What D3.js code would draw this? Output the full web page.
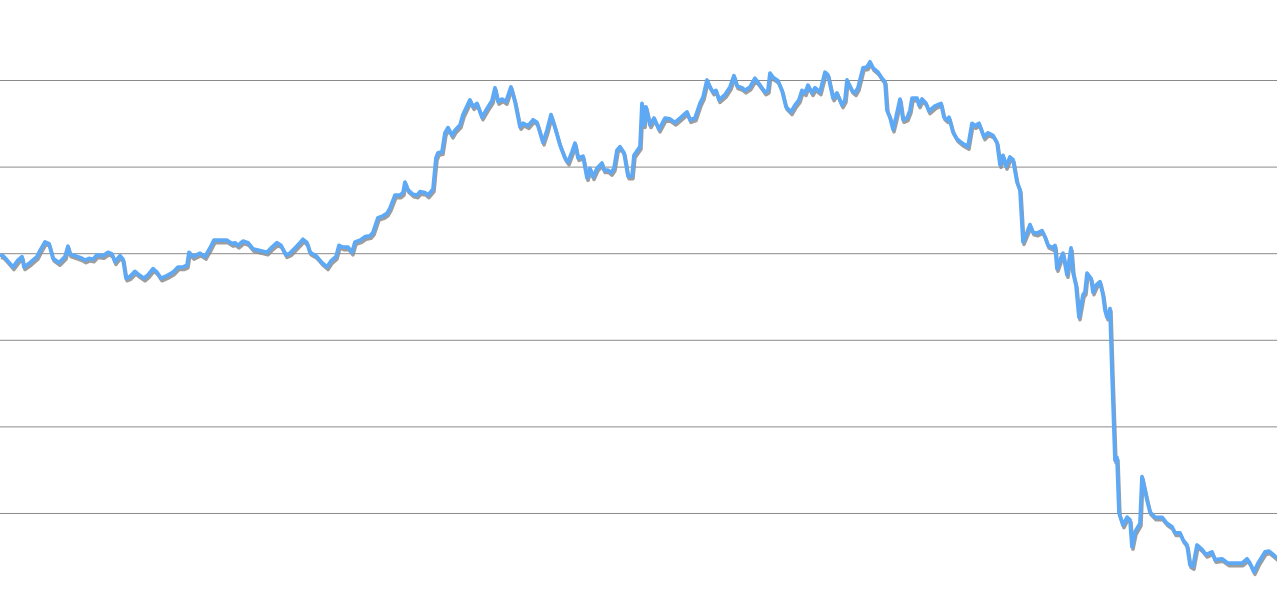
<!DOCTYPE html>
<html>
<head>
<meta charset="utf-8">
<title>line</title>
<script src="https://cdn.jsdelivr.net/npm/d3@7"></script>
<style>
  html, body { margin: 0; padding: 0; background: #fff; overflow: hidden; }
  .grid line { stroke: #8a8a8a; stroke-width: 1; }
  .grid .domain { display: none; }
  .grid text { display: none; }
</style>
</head>
<body>
<div id="graph"></div>
<script>
(function(){
"use strict";

// day index along the series
var days = [
  0,3,7,13,18,22,24,30,37,40,45,49,53,59,65,68,70,75,82,85,89,93,97,103,108,112,115,117,120,123,
  126,130,135,139,144,148,153,157,161,167,173,178,183,187,189,193,200,205,210,214,
  220,227,232,235,238,243,248,253,260,267,272,277,281,286,290,296,300,303,307,310,316,322,327,331,336,339,343,348,352,355,
  360,365,370,373,378,383,387,390,395,400,403,405,408,413,417,420,425,
  428,433,436,438,442,445,448,452,455,460,463,470,473,477,482,487,492,495,498,502,506,511,515,520,523,528,533,537,
  543,547,551,555,560,565,568,572,575,578,583,587,590,593,597,602,604,608,611,614,617,620,624,628,632,634,640,
  642,644,646,650,654,659,665,670,675,680,687,690,695,700,703,707,710,713,716,719,725,730,734,737,742,745,750,755,760,765,
  768,770,773,778,782,786,791,795,799,802,805,808,812,815,820,825,828,833,837,842,845,
  847,852,855,858,863,867,870,873,878,882,885,887,890,893,896,900,903,907,910,912,917,919,922,926,929,935,941,944,947,949,
  953,957,962,968,972,975,979,984,988,993,997,1000,1003,1006,1010,1013,1017,1020,1023,1027,1030,1033,1037,1042,1045,1048,1053,
  1055,1057,1060,1063,1067,1071,1073,1076,1079,1083,1085,1087,1091,1093,1096,1100,1103,1105,1107,1110,1112,1115,1117,1119,
  1123,1127,1130,1132,1135,1140,1142,1147,1150,1155,1162,1167,1172,1175,1180,1183,1187,1190,1193,1197,1202,1206,1212,1215,
  1222,1228,1237,1242,1247,1250,1254,1258,1265,1269,1273,1277
];

// value for each day
var values = [
  39.8,39.7,39.2,38.4,39.2,39.6,38.4,38.9,39.6,40.3,41.3,41.1,39.4,38.9,39.6,40.8,39.9,39.7,39.4,39.2,39.4,39.3,39.8,39.7,40.1,39.9,39.0,39.3,39.7,39.3,
  37.1,37.3,37.9,37.5,37.1,37.5,38.2,37.8,37.1,37.4,37.8,38.4,38.4,38.6,40.1,39.6,40.0,39.6,40.6,41.5,
  41.5,41.5,41.1,41.2,40.9,41.4,41.2,40.5,40.3,40.1,40.7,41.2,40.9,39.8,40.0,40.7,41.2,41.6,41.2,40.1,39.7,38.9,38.4,39.1,39.6,40.9,40.7,40.7,40.1,41.3,
  41.5,41.9,42.0,42.4,44.1,44.3,44.6,45.2,46.7,46.7,47.0,48.2,47.3,46.8,46.7,47.1,47.0,
  46.7,47.4,51.0,51.6,51.7,53.9,54.5,53.6,54.2,54.8,56.0,57.7,56.9,57.3,55.7,56.7,57.6,59.1,57.5,57.8,57.5,59.2,57.5,54.6,55.0,54.7,55.4,55.1,
  52.8,54.2,56.0,54.5,52.5,51.0,50.5,51.7,52.7,51.0,51.2,48.7,49.8,48.8,49.8,50.4,49.6,49.6,49.3,49.8,51.9,52.3,51.6,48.9,48.9,51.3,52.3,
  57.3,54.8,56.9,54.8,55.6,54.3,55.6,55.5,55.1,55.6,56.3,55.4,55.6,57.3,58.0,60.0,59.2,58.6,58.8,57.7,58.3,59.2,60.5,59.3,59.1,58.8,59.2,60.2,59.4,58.6,
  58.8,60.8,60.3,59.9,58.8,56.9,56.3,57.1,57.7,58.8,58.5,59.4,58.5,59.1,58.6,60.9,60.6,57.9,58.5,57.1,57.7,
  60.0,58.8,58.5,59.1,61.4,61.5,62.1,61.4,60.9,60.2,59.8,56.5,55.7,54.3,55.7,57.8,55.4,55.6,56.5,57.9,57.9,57.1,57.8,57.3,56.4,57.0,57.3,55.7,55.4,55.7,
  54.0,53.2,52.7,52.3,55.0,54.7,55.0,53.4,53.9,53.6,52.8,50.2,51.3,50.0,51.1,50.8,48.2,47.3,41.3,42.4,43.3,42.4,42.3,42.6,41.9,40.9,40.6,
  40.9,38.2,39.2,40.0,37.5,40.6,37.8,36.3,32.6,35.2,35.5,37.7,37.1,35.5,36.3,36.7,35.2,33.4,32.6,33.6,26.2,16.1,16.4,10.0,
  8.6,9.5,9.2,6.1,7.8,8.8,14.2,11.5,10.1,9.5,9.5,8.8,8.4,7.7,7.7,6.9,6.3,4.0,3.8,6.3,5.8,5.2,5.5,4.6,
  4.7,4.2,4.2,4.2,4.7,4.2,3.2,4.2,5.5,5.6,5.2,4.8
];

// horizontal grid levels
var gridTicks = [10, 20, 30, 40, 50, 60];

var width = 1277;
var height = 589;

var data = days.map(function(d, i){
  return {day: d, value: values[i]};
});

var x = d3.scaleLinear()
  .domain([0, 1277])
  .range([0, width]);
var y = d3.scaleLinear()
  .domain([1.22, 69.24])
  .range([height, 0]);

var svg = d3.select('#graph')
  .append('svg')
    .attr('width', width)
    .attr('height', height);

svg.append('g')
  .attr('class', 'grid')
  .call(d3.axisLeft(y)
    .tickValues(gridTicks)
    .tickSize(-width)
    .tickSizeOuter(0));

var line = d3.line()
  .x(function(d){ return x(d.day); })
  .y(function(d){ return y(d.value); });

// drop shadow under the line
svg.append('path')
  .datum(data)
  .attr('d', line)
  .attr('transform', 'translate(1,2.5)')
  .style('fill', 'none')
  .style('stroke', '#8c8c8c')
  .style('stroke-opacity', 0.85)
  .style('stroke-width', 3.5)
  .style('stroke-linejoin', 'round');

svg.append('path')
  .datum(data)
  .attr('d', line)
  .style('fill', 'none')
  .style('stroke', '#5ea9f6')
  .style('stroke-width', 3.8)
  .style('stroke-linejoin', 'round');

})();
</script>
</body>
</html>
